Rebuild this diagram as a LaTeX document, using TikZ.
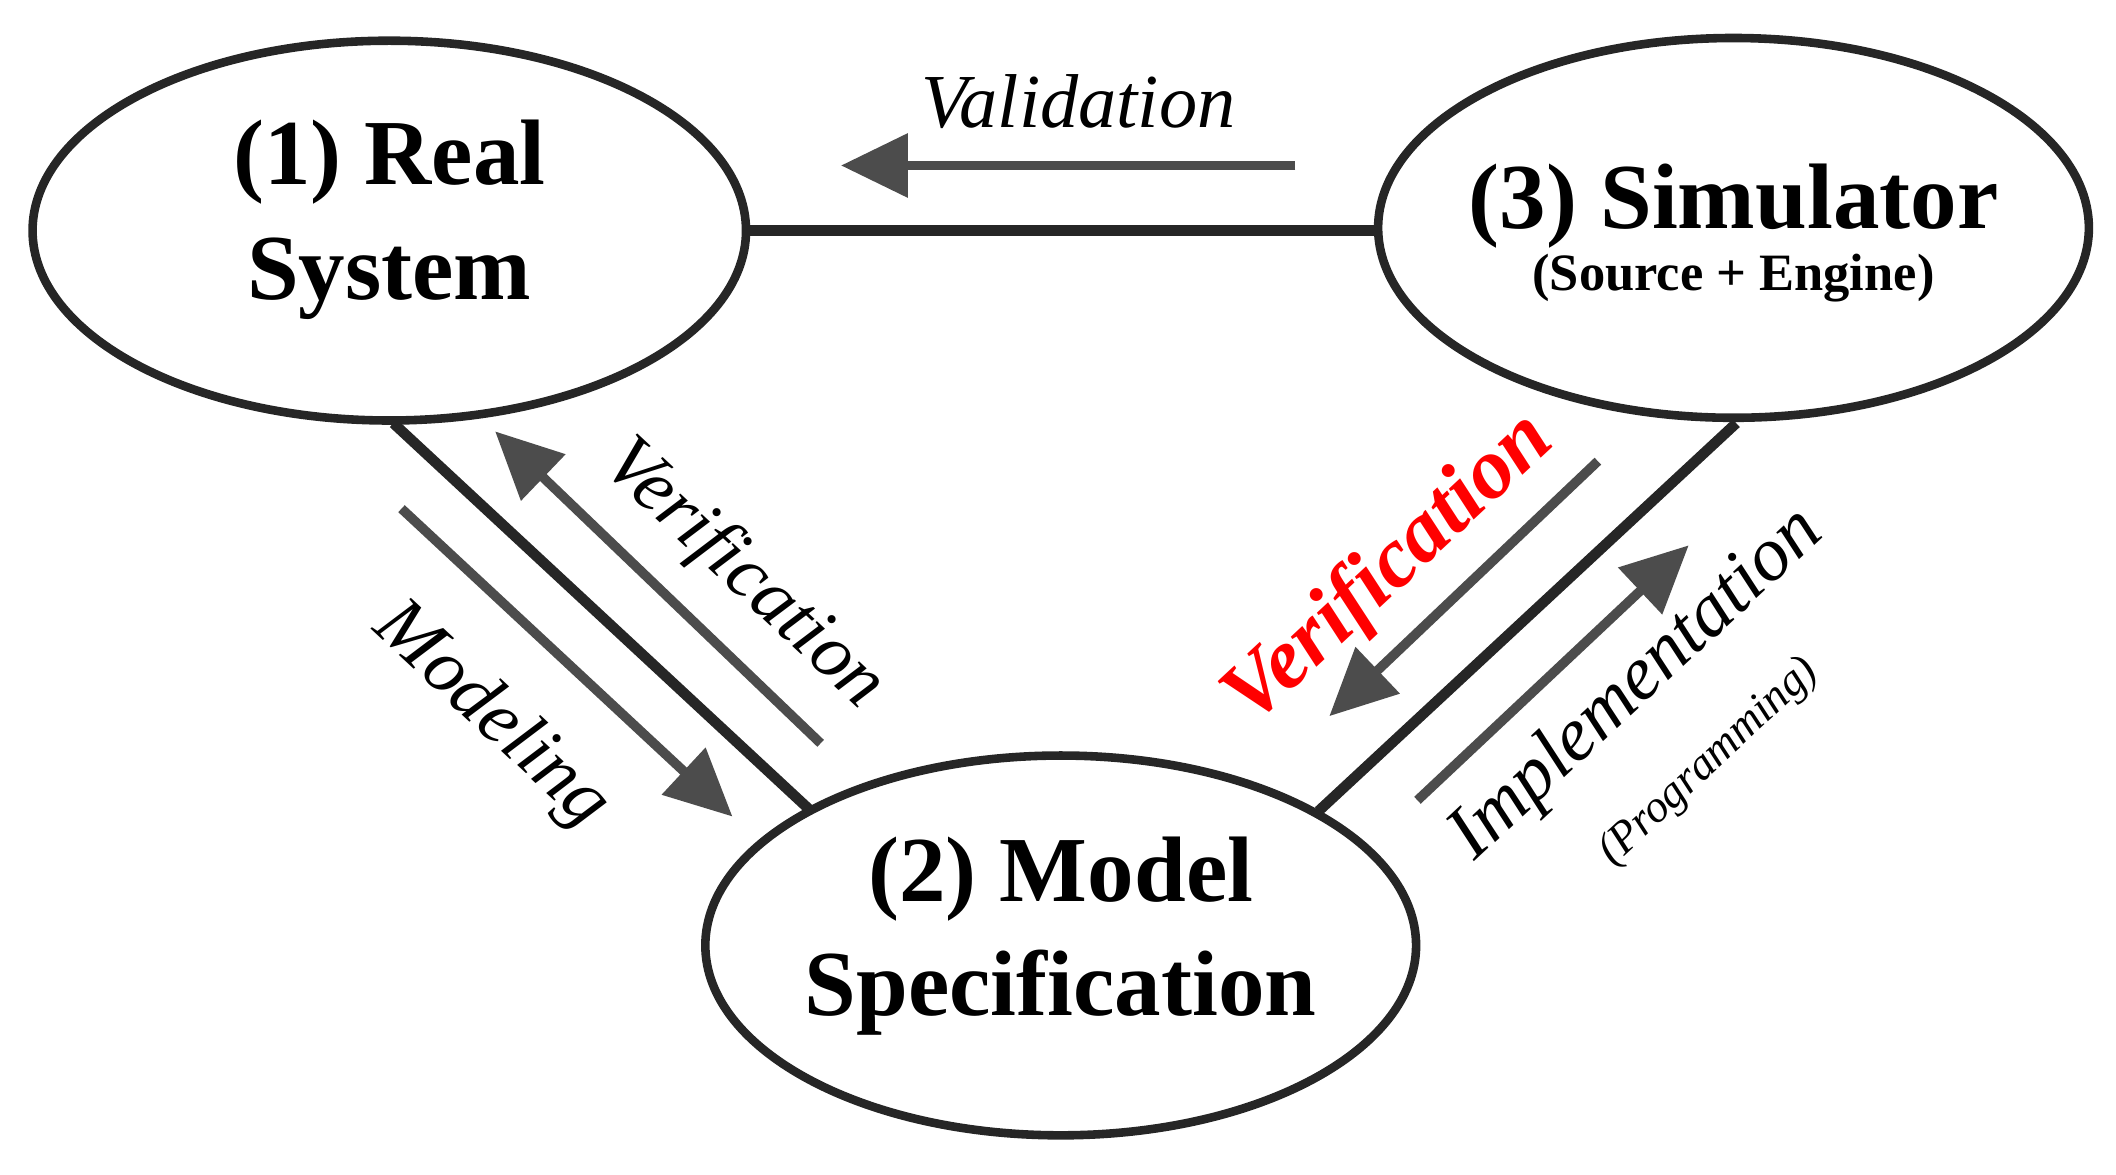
\documentclass[tikz,border=0pt]{standalone}
\usepackage{fontspec}
\setmainfont{Liberation Serif}
\usetikzlibrary{arrows.meta}
\begin{document}
\begin{tikzpicture}[x=0.01cm,y=-0.01cm,
  conn/.style={draw=black!85,line width=2.2pt},
  arr/.style={draw=black!70,line width=2pt,-{Triangle[length=14pt,width=13pt]}},
  lab/.style={font=\itshape\fontsize{16}{18}\selectfont}]
\useasboundingbox (0,0) rectangle (1560,866);
\draw[draw=black!85,line width=1.8pt] (287,170) ellipse [x radius=263,y radius=140];
\draw[draw=black!85,line width=1.8pt] (1278,168) ellipse [x radius=262,y radius=140];
\draw[draw=black!85,line width=1.8pt] (782,697) ellipse [x radius=262,y radius=140];
\node[align=center,font=\bfseries\fontsize{19.5}{24}\selectfont] (rs) at (287,162) {(1) Real\\System};
\node[align=center] (sim) at (1278,172) {{\bfseries\fontsize{19.5}{24}\selectfont (3) Simulator}\\[1pt]{\bfseries\fontsize{11}{13}\selectfont (Source + Engine)}};
\node[align=center,font=\bfseries\fontsize{19.5}{24}\selectfont] (ms) at (782,690) {(2) Model\\Specification};
\coordinate (a1) at (550,170); \coordinate (a2) at (1015,170);
\coordinate (b1) at (290,312); \coordinate (b2) at (598,598);
\coordinate (c1) at (1280,312); \coordinate (c2) at (972,598);
\draw[conn] (a1) -- (a2);
\draw[conn] (b1) -- (b2);
\draw[conn] (c1) -- (c2);
\coordinate (v1) at (955,122); \coordinate (v2) at (620,122);
\draw[arr] (v1) -- (v2);
\node[lab] (vl) at (795,75) {Validation};
\coordinate (m1) at (296,375); \coordinate (m2) at (540,602);
\draw[arr] (m1) -- (m2);
\node[lab,rotate=-43] (ml) at (362,528) {Modeling};
\coordinate (w1) at (605,548); \coordinate (w2) at (365,318);
\draw[arr] (w1) -- (w2);
\node[lab,rotate=-43] (wl) at (548,424) {Verification};
\coordinate (r1) at (1178,340); \coordinate (r2) at (980,528);
\draw[arr] (r1) -- (r2);
\node[font=\bfseries\itshape\fontsize{18}{20}\selectfont,text=red,rotate=43] (rl) at (1025,420) {Verification};
\coordinate (i1) at (1045,590); \coordinate (i2) at (1245,402);
\draw[arr] (i1) -- (i2);
\node[lab,rotate=43] (il) at (1207,505) {Implementation};
\node[font=\itshape\fontsize{9.5}{11}\selectfont,rotate=43] (pl) at (1260,562) {(Programming)};
\end{tikzpicture}
\end{document}
